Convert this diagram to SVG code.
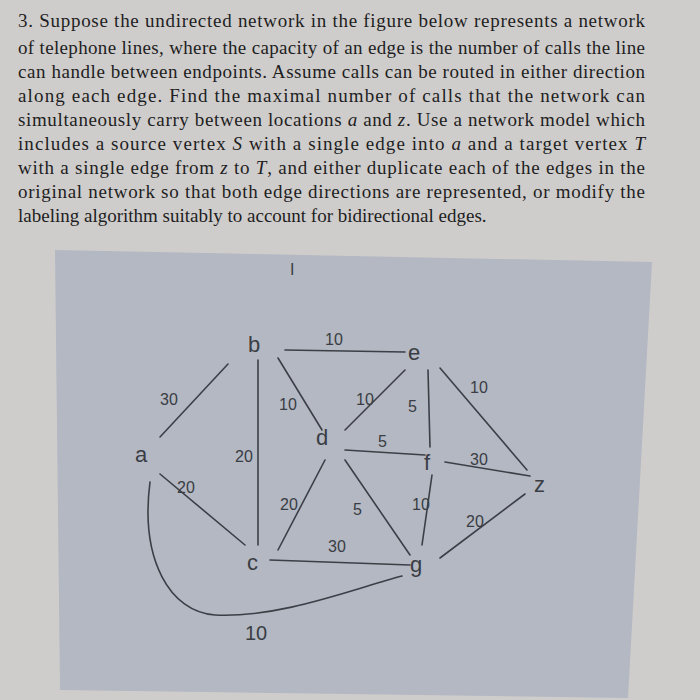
<svg xmlns="http://www.w3.org/2000/svg" width="700" height="700" viewBox="0 0 700 700">
<style>
.t{font-family:"Liberation Serif",serif;font-size:19px;fill:#1e1e22}
.h{font-family:"Liberation Sans",sans-serif;font-size:16px;fill:#3a3d44}
.n{font-family:"Liberation Sans",sans-serif;font-size:22px;fill:#3a3d44}
#edges path{stroke:#3c3f46;stroke-width:1.6;fill:none;stroke-linecap:round}
</style>
<rect width="700" height="700" fill="#cfcdcc"/>
<polygon points="55,250 652,262 628,698 60,690" fill="#b3b8c2"/>
<g class="t">
<text x="18" y="27" textLength="627" lengthAdjust="spacing">3. Suppose the undirected network in the figure below represents a network</text>
<text x="18" y="54" textLength="627" lengthAdjust="spacing">of telephone lines, where the capacity of an edge is the number of calls the line</text>
<text x="18" y="78" textLength="627" lengthAdjust="spacing">can handle between endpoints. Assume calls can be routed in either direction</text>
<text x="18" y="102" textLength="627" lengthAdjust="spacing">along each edge.  Find the maximal number of calls that the network can</text>
<text x="18" y="126" textLength="627" lengthAdjust="spacing">simultaneously carry between locations <tspan font-style="italic">a</tspan> and <tspan font-style="italic">z</tspan>. Use a network model which</text>
<text x="18" y="150" textLength="627" lengthAdjust="spacing">includes a source vertex <tspan font-style="italic">S</tspan> with a single edge into <tspan font-style="italic">a</tspan> and a target vertex <tspan font-style="italic">T</tspan></text>
<text x="18" y="174" textLength="627" lengthAdjust="spacing">with a single edge from <tspan font-style="italic">z</tspan> to <tspan font-style="italic">T</tspan>, and either duplicate each of the edges in the</text>
<text x="18" y="198" textLength="627" lengthAdjust="spacing">original network so that both edge directions are represented, or modify the</text>
<text x="18" y="222">labeling algorithm suitably to account for bidirectional edges.</text>
</g>
<text x="290" y="275" class="h" fill="#7a7f88">I</text>
<g id="edges">
<path d="M160,437 L228,364"/>
<path d="M285,350 L405,352"/>
<path d="M258,360 L258,545"/>
<path d="M278,358 L322,430"/>
<path d="M405,370 L345,430"/>
<path d="M428,370 L430,447"/>
<path d="M440,368 L527,470"/>
<path d="M345,450 L425,455"/>
<path d="M445,462 L530,476"/>
<path d="M160,474 L245,545"/>
<path d="M325,460 L278,550"/>
<path d="M345,460 L410,555"/>
<path d="M432,475 L422,545"/>
<path d="M525,494 L440,558"/>
<path d="M270,560 L410,565"/>
<path d="M150,482 C140,560 170,612 215,615 C280,618 350,590 402,576"/>
</g>
<g id="labels" class="h">
<text x="160" y="405">30</text><text x="325" y="345">10</text><text x="235" y="462">20</text>
<text x="279" y="410">10</text><text x="356" y="405">10</text><text x="408" y="412">5</text>
<text x="470" y="393">10</text><text x="378" y="447">5</text><text x="470" y="465">30</text>
<text x="177" y="493">20</text><text x="280" y="510">20</text><text x="353" y="515">5</text>
<text x="412" y="510">10</text><text x="466" y="527">20</text><text x="328" y="552">30</text>
<text x="245" y="640" font-size="20">10</text>
</g>
<g id="a"><text x="135" y="462" class="n">a</text></g>
<g id="b"><text x="248" y="352" class="n">b</text></g>
<g id="e"><text x="408" y="360" class="n">e</text></g>
<g id="d"><text x="316" y="445" class="n">d</text></g>
<g id="f"><text x="424" y="470" class="n">f</text></g>
<g id="z"><text x="534" y="492" class="n">z</text></g>
<g id="c"><text x="247" y="570" class="n">c</text></g>
<g id="g"><text x="410" y="572" class="n">g</text></g>
</svg>
